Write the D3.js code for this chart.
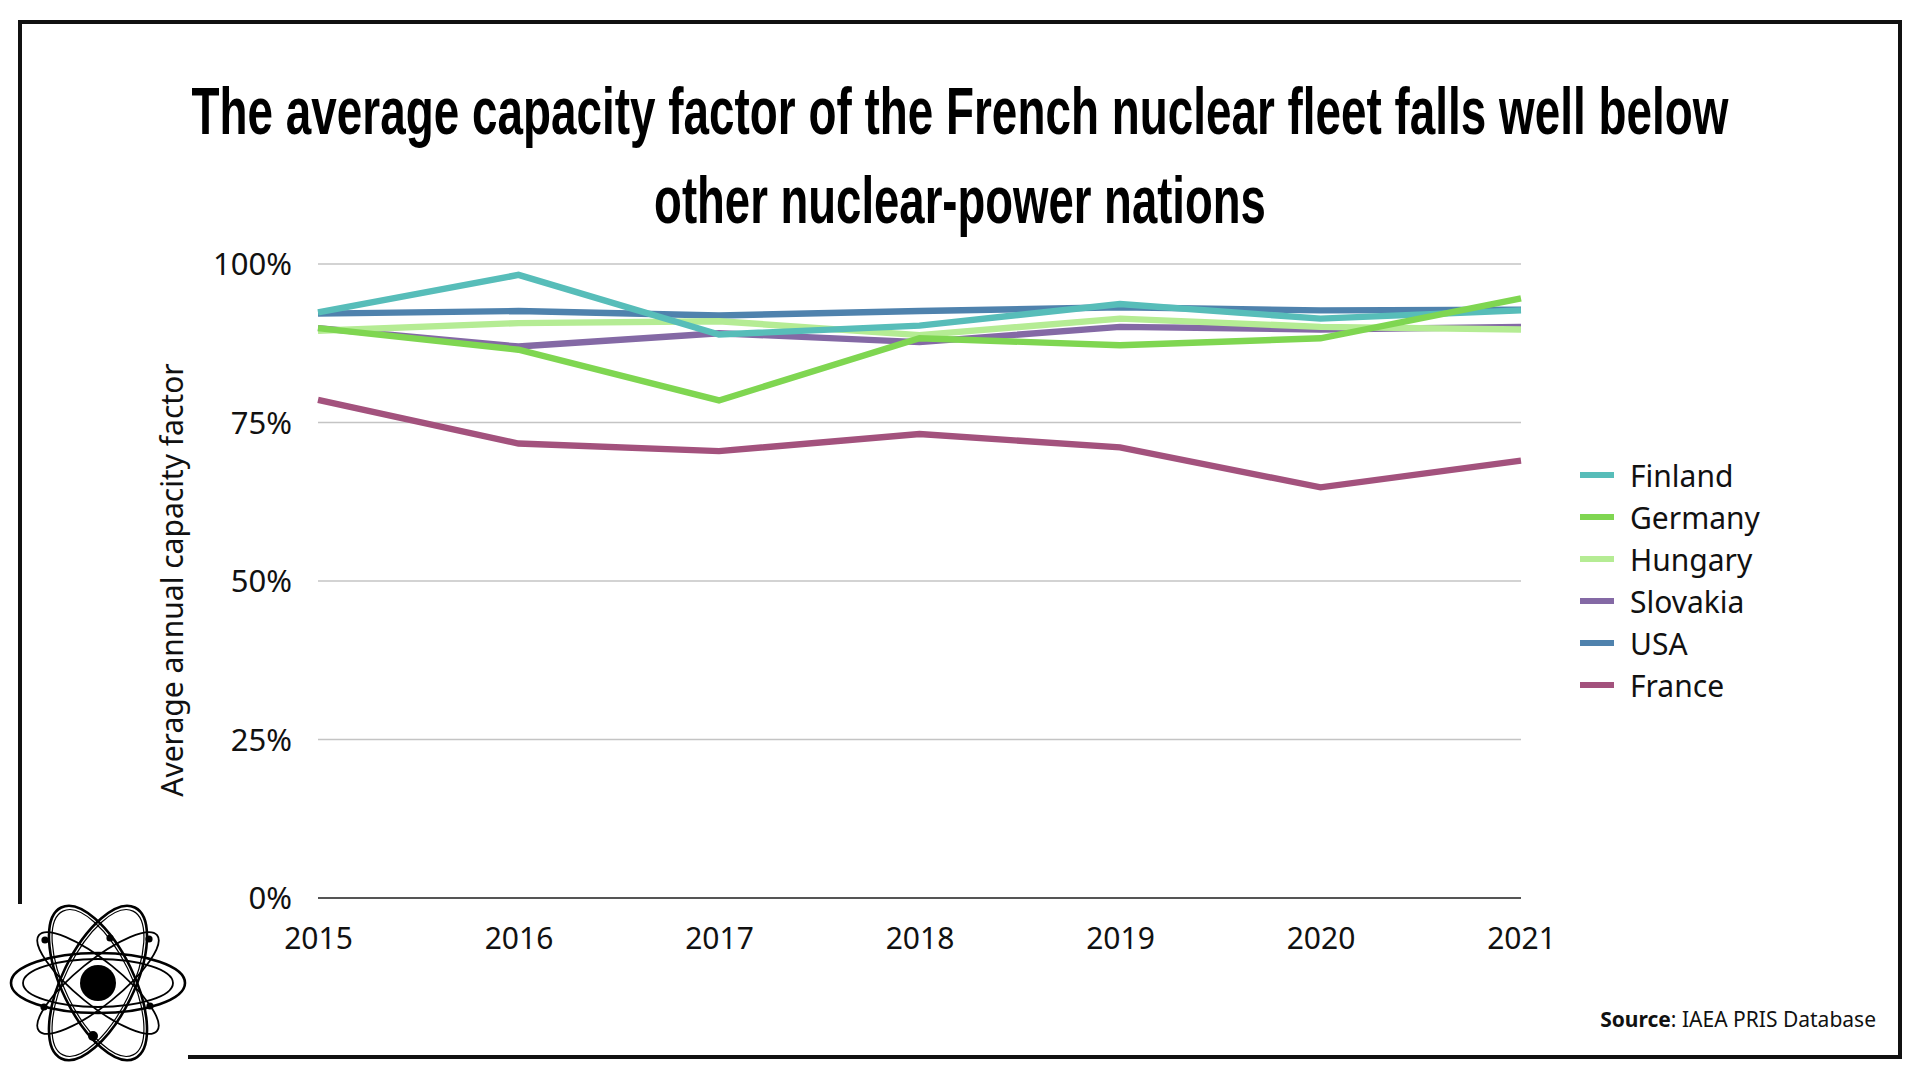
<!DOCTYPE html>
<html>
<head>
<meta charset="utf-8">
<script src="https://d3js.org/d3.v7.min.js"></script>
<style>
html,body{margin:0;padding:0;background:#fff;}
svg{display:block;}
text{font-family:"Noto Sans",sans-serif;fill:#111;}
</style>
</head>
<body>
<svg id="chart" width="1920" height="1080"></svg>
<script>
const years = [2015, 2016, 2017, 2018, 2019, 2020, 2021];
const finland  = [92.3, 98.2, 88.8, 90.2, 93.6, 91.3, 92.6];
const germany  = [89.8, 86.4, 78.4, 88.2, 87.1, 88.2, 94.5];
const hungary  = [89.4, 90.6, 90.9, 88.7, 91.3, 90.0, 89.6];
const slovakia = [89.8, 86.9, 89.0, 87.6, 90.0, 89.6, 90.0];
const usa      = [92.1, 92.5, 91.8, 92.5, 93.1, 92.6, 92.7];
const france   = [78.5, 71.6, 70.4, 73.1, 71.0, 64.7, 68.9];
const yTicks = [0, 25, 50, 75, 100];

const legendOrder = [
  ["Finland", finland, "#57bdb9"],
  ["Germany", germany, "#7fd651"],
  ["Hungary", hungary, "#b5ec94"],
  ["Slovakia", slovakia, "#8469a5"],
  ["USA", usa, "#4f82ad"],
  ["France", france, "#a3527d"]
];
// Paint order: Germany sits on top, France at the bottom
const paintOrder = ["France", "USA", "Slovakia", "Hungary", "Finland", "Germany"];

const svg = d3.select("#chart");
const x = d3.scaleLinear().domain([2015, 2021]).range([318, 1521]);
const y = d3.scaleLinear().domain([0, 100]).range([897.5, 263.5]);

// Open frame: the corner behind the emblem stays empty
svg.append("path")
  .attr("d", "M20,904 V22 H1900 V1057 H188")
  .attr("fill", "none").attr("stroke", "#111").attr("stroke-width", 4);

// Title: a tall bold face squeezed horizontally to a fixed measure
const titleLines = [
  ["The average capacity factor of the French nuclear fleet falls well below", 1537],
  ["other nuclear-power nations", 612]
];
titleLines.forEach((l, i) => {
  const t = svg.append("text")
    .attr("text-anchor", "middle")
    .style("font-family", '"Liberation Sans Narrow","Liberation Sans",sans-serif')
    .style("font-size", "66px").style("font-weight", 700)
    .style("fill", "#000")
    .text(l[0]);
  const k = l[1] / t.node().getComputedTextLength();
  t.attr("transform", `translate(960,${134 + i * 89}) scale(${k},1)`);
});

// Horizontal grid and value axis
const yAxis = d3.axisLeft(y).tickValues(yTicks).tickFormat(d => d + "%")
  .tickSize(-(1521 - 318)).tickPadding(26);
const gy = svg.append("g").attr("transform", "translate(318,0)").call(yAxis);
gy.select(".domain").remove();
gy.selectAll(".tick line").attr("stroke", d => d === 0 ? "#555" : "#c4c4c4").attr("stroke-width", d => d === 0 ? 2 : 1.5);
gy.selectAll(".tick text").style("font-size", "31px").attr("fill", "#111").attr("dy", "0.36em");

// Year axis
const xAxis = d3.axisBottom(x).tickValues(years).tickFormat(d3.format("d")).tickSize(0).tickPadding(30);
const gx = svg.append("g").attr("transform", "translate(0,897.5)").call(xAxis);
gx.select(".domain").remove();
gx.selectAll(".tick text").style("font-size", "30px").attr("fill", "#111");

// Axis title
svg.append("text")
  .attr("transform", "translate(183,580) rotate(-90)")
  .attr("text-anchor", "middle")
  .style("font-size", "30px")
  .text("Average annual capacity factor");

// Series lines
const line = d3.line().x((d, i) => x(years[i])).y(d => y(d));
paintOrder.forEach(name => {
  const s = legendOrder.find(e => e[0] === name);
  svg.append("path").datum(s[1])
    .attr("d", line)
    .attr("fill", "none").attr("stroke", s[2])
    .attr("stroke-width", 6.4).attr("stroke-linejoin", "miter");
});

// Legend
const legend = svg.append("g").selectAll("g").data(legendOrder).join("g")
  .attr("transform", (d, i) => `translate(1580,${475 + i * 42})`);
legend.append("rect").attr("x", 0).attr("y", -3).attr("width", 34).attr("height", 6).attr("fill", d => d[2]);
legend.append("text").attr("x", 50).attr("y", 12).style("font-size", "30px").text(d => d[0]);

// Source note
const src = svg.append("text").attr("x", 1876).attr("y", 1027).attr("text-anchor", "end").style("font-size", "21px");
src.append("tspan").style("font-weight", 700).text("Source");
src.append("tspan").text(": IAEA PRIS Database");

// Atom emblem: nucleus, doubled orbits and electrons
const atom = svg.append("g").attr("transform", "translate(98,983)").attr("fill", "none").attr("stroke", "#000");
const orbits = [
  [0, 87, 30, 2.6], [0, 75, 24, 1.8],
  [64, 84, 36, 2.6], [-64, 84, 36, 2.6],
  [64, 80, 33, 1.2], [-64, 80, 33, 1.2],
  [39, 76, 22, 1.8], [-39, 76, 22, 1.8]
];
orbits.forEach(o => {
  atom.append("ellipse")
    .attr("transform", `rotate(${o[0]})`)
    .attr("rx", o[1]).attr("ry", o[2]).attr("stroke-width", o[3]);
});
atom.append("circle").attr("r", 18).attr("fill", "#000").attr("stroke", "none");
[[-53, -43], [12, -45], [51, -44], [-54, 24], [52, 23], [-5, 53]].forEach(p => {
  atom.append("circle").attr("cx", p[0]).attr("cy", p[1]).attr("r", p[0] === -5 ? 5 : 3.6)
    .attr("fill", "#000").attr("stroke", "none");
});
</script>
</body>
</html>
